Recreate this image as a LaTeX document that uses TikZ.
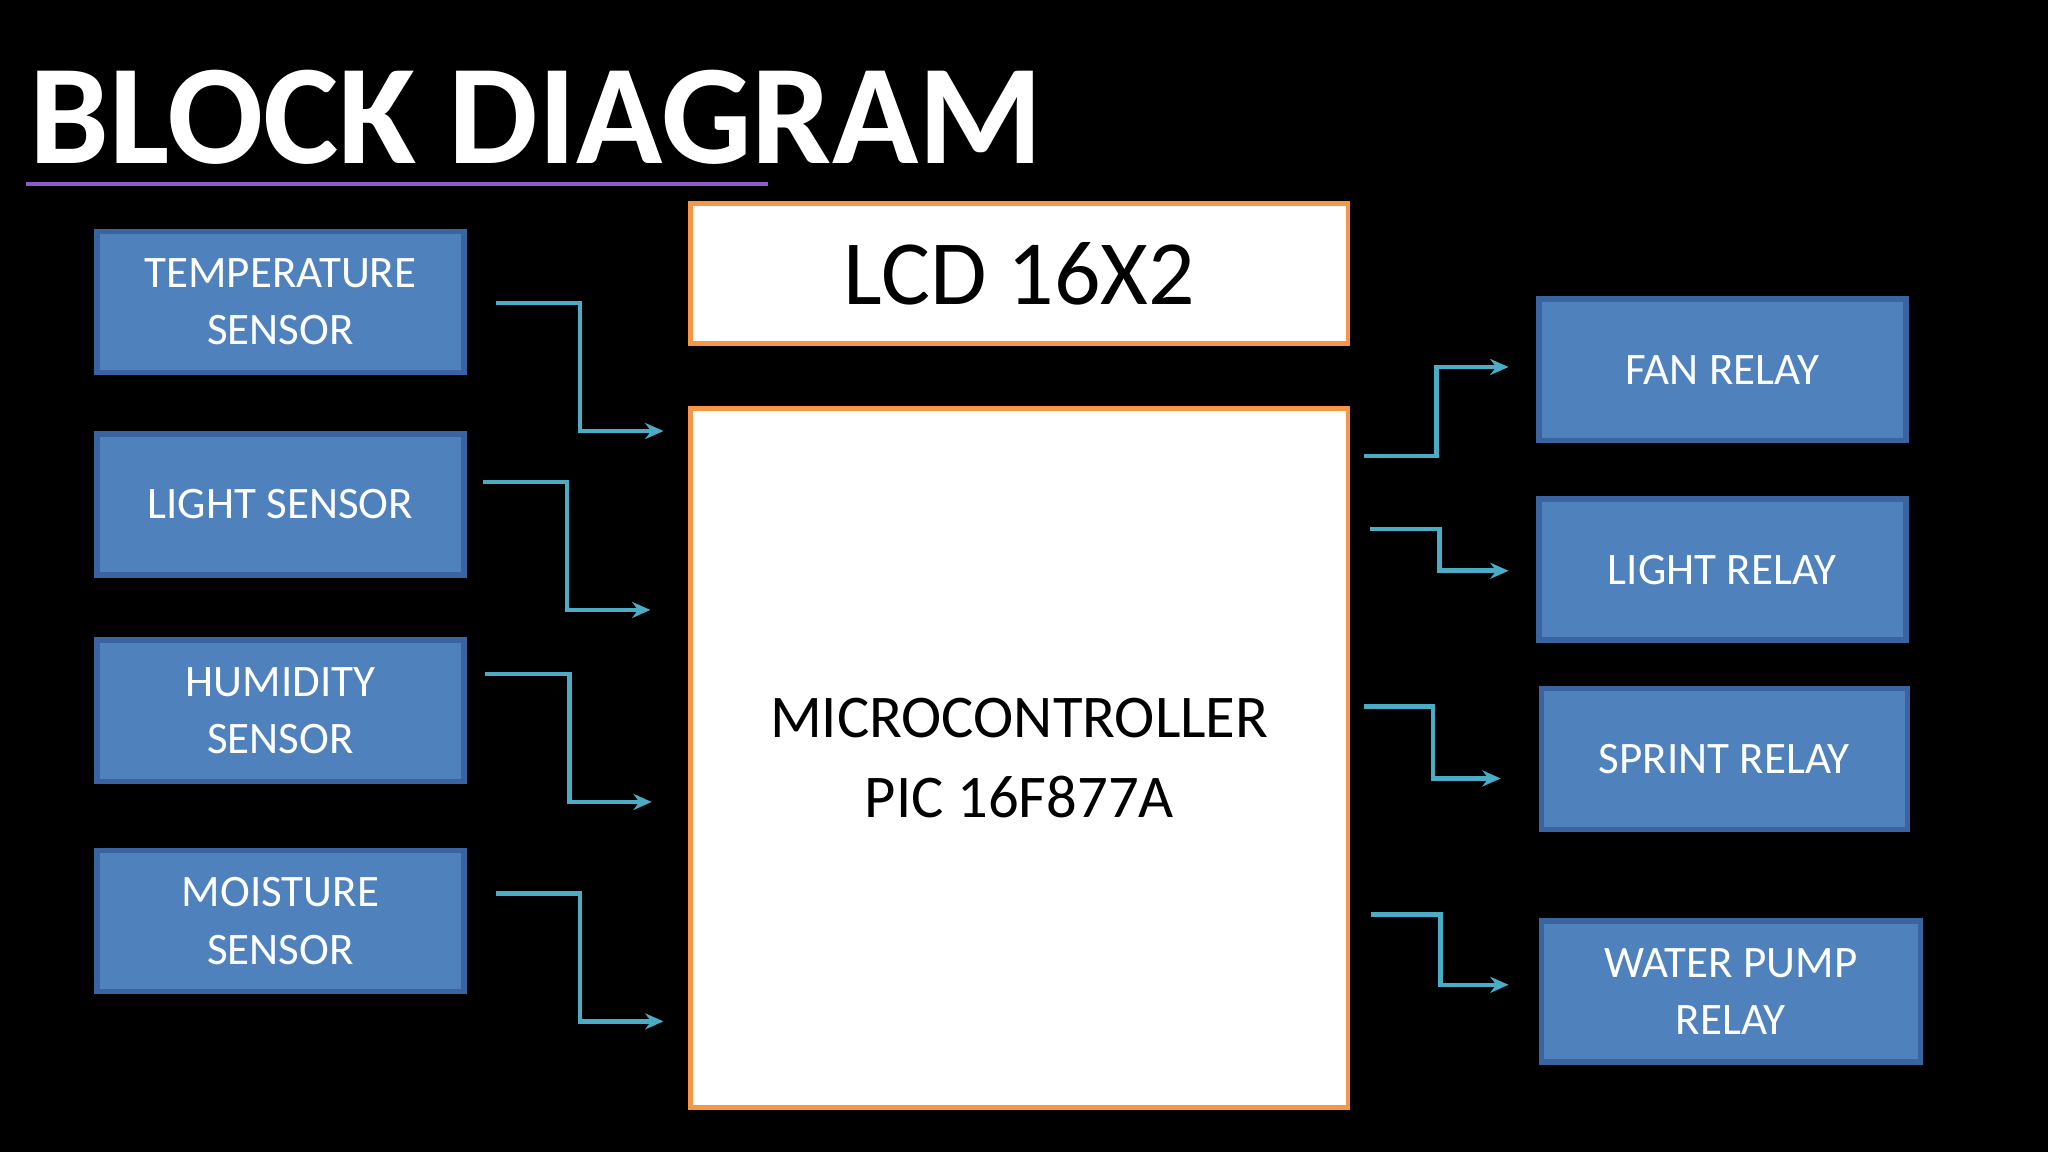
\documentclass[tikz,border=0pt]{standalone}
\usepackage{fontspec}
\setmainfont{Carlito}
\usetikzlibrary{arrows.meta}
\definecolor{boxblue}{HTML}{4F81BD}
\definecolor{boxedge}{HTML}{3A64A0}
\definecolor{cy}{HTML}{4BACC6}
\definecolor{orng}{HTML}{F79646}
\definecolor{purp}{HTML}{8E5CC8}
\tikzset{
 px/.style={x=0.01cm,y=-0.01cm},
 blk/.style={draw=boxedge,line width=1.2pt,fill=boxblue,text=white,font=\fontsize{9.8}{12.5}\selectfont,align=center,anchor=north west,inner sep=0pt},
 wbox/.style={draw=orng,line width=1pt,fill=white,text=black,align=center,anchor=north west,inner sep=0pt},
 link/.style={draw=cy,line width=1pt,-{Stealth[length=4pt,width=3.5pt]}}
}
\begin{document}
\begin{tikzpicture}[px]
\useasboundingbox[fill=black] (0,0) rectangle (1568,882);
\node[anchor=base west,text=white,font=\fontsize{31}{31}\bfseries\selectfont,inner sep=0pt] (title) at (22,125) {BLOCK DIAGRAM};
\draw[purp,line width=0.8pt] (20,141) -- (588,141);
% left
\node[blk,minimum width=2.81cm,minimum height=1.08cm] (t) at (72,175) {TEMPERATURE\\SENSOR};
\node[blk,minimum width=2.81cm,minimum height=1.08cm] (l) at (72,330) {LIGHT SENSOR};
\node[blk,minimum width=2.81cm,minimum height=1.08cm] (h) at (72,488) {HUMIDITY\\SENSOR};
\node[blk,minimum width=2.81cm,minimum height=1.08cm] (m) at (72,649) {MOISTURE\\SENSOR};
% center
\node[wbox,minimum width=5.03cm,minimum height=1.07cm,font=\fontsize{20}{24}\selectfont] (lcd) at (527,154) {LCD 16X2};
\node[wbox,minimum width=5.03cm,minimum height=5.35cm,font=\fontsize{13.2}{17.5}\selectfont] (mcu) at (527,311) {MICROCONTROLLER\\PIC 16F877A};
% right
\node[blk,minimum width=2.81cm,minimum height=1.08cm] (fr) at (1176,227) {FAN RELAY};
\node[blk,minimum width=2.81cm,minimum height=1.08cm] (lr) at (1176,380) {LIGHT RELAY};
\node[blk,minimum width=2.80cm,minimum height=1.08cm] (sr) at (1178,525) {SPRINT RELAY};
\node[blk,minimum width=2.90cm,minimum height=1.08cm] (wr) at (1178,703) {WATER PUMP\\RELAY};
% connector coordinates
\coordinate (a1) at (380,232); \coordinate (b1) at (508,330);
\coordinate (a2) at (370,369); \coordinate (b2) at (498,467);
\coordinate (a3) at (371,516); \coordinate (b3) at (499,614);
\coordinate (a4) at (380,684); \coordinate (b4) at (508,782);
\coordinate (c1) at (1044,349); \coordinate (d1) at (1155,281);
\coordinate (c2) at (1049,405); \coordinate (d2) at (1155,437);
\coordinate (c3) at (1044,541); \coordinate (d3) at (1149,596);
\coordinate (c4) at (1050,700); \coordinate (d4) at (1155,754);
\draw[link] (a1) -- (444,232) -- (444,330) -- (b1);
\draw[link] (a2) -- (434,369) -- (434,467) -- (b2);
\draw[link] (a3) -- (436,516) -- (436,614) -- (b3);
\draw[link] (a4) -- (444,684) -- (444,782) -- (b4);
\draw[link] (c1) -- (1100,349) -- (1100,281) -- (d1);
\draw[link] (c2) -- (1102,405) -- (1102,437) -- (d2);
\draw[link] (c3) -- (1097,541) -- (1097,596) -- (d3);
\draw[link] (c4) -- (1103,700) -- (1103,754) -- (d4);
\end{tikzpicture}
\end{document}
